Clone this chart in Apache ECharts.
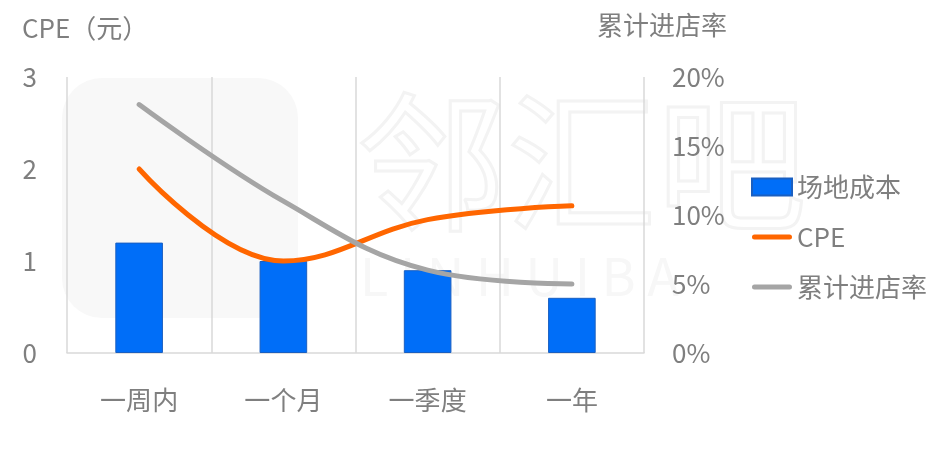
<!DOCTYPE html>
<html>
<head>
<meta charset="utf-8">
<script src="https://cdn.jsdelivr.net/npm/echarts@6/dist/echarts.min.js"></script>
<style>
html,body{margin:0;padding:0;background:#fff;}
#chart{width:944px;height:454px;}
</style>
</head>
<body>
<div id="chart"></div>
<script>
const categories = ['一周内', '一个月', '一季度', '一年'];
const siteCost = [1.2, 1.0, 0.9, 0.6];
const cpe = [2.0, 1.0, 1.45, 1.6];
const cumulativeRate = [18, 11, 6, 5];
const leftTicks = { min: 0, max: 3, interval: 1 };
const rightTicks = { min: 0, max: 20, interval: 5 };

const FONT = '"Noto Sans CJK SC", "Noto Sans", sans-serif';
const GRAY = '#7f7f7f';
const LINE_ICON = 'path://M0,0 L0.01,0 L0.01,0.01 Z M2.5,6 L37.5,6 A2.5,2.5 0 0 1 37.5,11 L2.5,11 A2.5,2.5 0 0 1 2.5,6 Z M39.99,16.99 L40,16.99 L40,17 Z';

const chart = echarts.init(document.getElementById('chart'));
chart.setOption({
  animation: false,
  backgroundColor: '#ffffff',
  textStyle: { fontFamily: FONT, color: GRAY },
  graphic: [
    { type: 'rect', z: -10, silent: true, shape: { x: 62, y: 78, width: 236, height: 240, r: 40 }, style: { fill: '#f8f8f8' } },
    { type: 'text', z: -10, silent: true, left: 355, top: 85, style: { text: '邻汇吧', fill: 'none', stroke: '#f3f3f3', lineWidth: 3, font: '150px ' + FONT } },
    { type: 'text', z: -10, silent: true, left: 360, top: 250, style: { text: 'L I N H U I B A', fill: '#f7f7f7', font: '52px ' + FONT } }
  ],
  legend: {
    orient: 'vertical',
    left: 746,
    top: 169,
    itemWidth: 40,
    itemHeight: 17,
    itemGap: 24,
    textStyle: { fontFamily: FONT, fontSize: 26, color: GRAY, lineHeight: 26 },
    data: [
      { name: '场地成本', icon: 'rect' },
      { name: 'CPE', icon: LINE_ICON, itemStyle: { color: '#FF6600', borderWidth: 0 } },
      { name: '累计进店率', icon: LINE_ICON, itemStyle: { color: '#A5A5A5', borderWidth: 0 } }
    ]
  },
  grid: { left: 67, right: 300, top: 77, bottom: 101, containLabel: false },
  xAxis: {
    type: 'category',
    data: categories,
    boundaryGap: true,
    axisLine: { show: true, lineStyle: { color: '#d9d9d9', width: 1.5 } },
    axisTick: { show: false },
    axisLabel: { fontSize: 26, color: GRAY, margin: 34, fontFamily: FONT },
    splitLine: { show: true, lineStyle: { color: '#d9d9d9', width: 1.5 } }
  },
  yAxis: [
    {
      type: 'value',
      min: leftTicks.min, max: leftTicks.max, interval: leftTicks.interval,
      name: 'CPE（元）',
      nameLocation: 'end',
      nameGap: 36,
      nameTextStyle: { fontSize: 26, color: GRAY, align: 'left', padding: [0, 0, 0, -45], fontFamily: FONT },
      axisLine: { show: false },
      axisTick: { show: false },
      splitLine: { show: false },
      axisLabel: { fontSize: 26, color: GRAY, margin: 30, fontFamily: FONT }
    },
    {
      type: 'value',
      min: rightTicks.min, max: rightTicks.max, interval: rightTicks.interval,
      name: '累计进店率',
      nameLocation: 'end',
      nameGap: 39,
      nameTextStyle: { fontSize: 26, color: GRAY, align: 'left', padding: [0, 0, 0, -47], fontFamily: FONT },
      axisLine: { show: false },
      axisTick: { show: false },
      splitLine: { show: false },
      axisLabel: { fontSize: 26, color: GRAY, margin: 28, formatter: '{value}%', fontFamily: FONT }
    }
  ],
  series: [
    {
      name: '场地成本',
      type: 'bar',
      data: siteCost,
      yAxisIndex: 0,
      barWidth: '33%',
      itemStyle: { color: '#006EF8', borderColor: '#1A5FC0', borderWidth: 1 }
    },
    {
      name: 'CPE',
      type: 'line',
      data: cpe,
      yAxisIndex: 0,
      smooth: 0.4,
      showSymbol: false,
      symbol: 'none',
      lineStyle: { color: '#FF6600', width: 5, cap: 'round' },
      itemStyle: { color: '#FF6600' }
    },
    {
      name: '累计进店率',
      type: 'line',
      data: cumulativeRate,
      yAxisIndex: 1,
      smooth: 0.4,
      showSymbol: false,
      symbol: 'none',
      lineStyle: { color: '#A5A5A5', width: 5, cap: 'round' },
      itemStyle: { color: '#A5A5A5' }
    }
  ]
});
</script>
</body>
</html>
